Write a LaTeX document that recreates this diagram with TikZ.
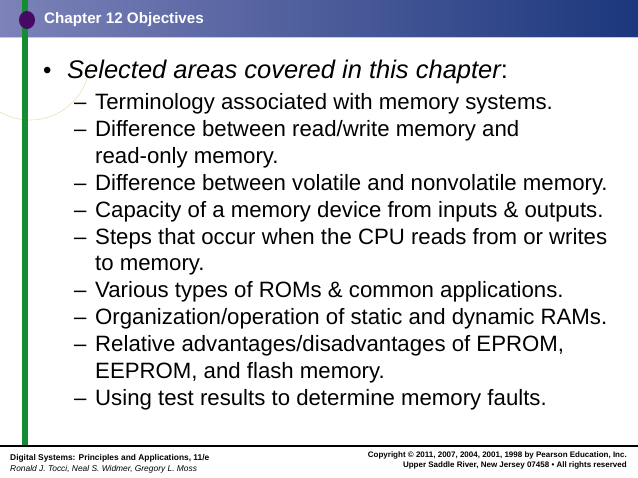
\documentclass[tikz,border=0pt]{standalone}
\usepackage{fontspec}
\setmainfont{Liberation Sans}
\definecolor{hl}{RGB}{125,130,185}
\definecolor{hr}{RGB}{28,55,125}
\definecolor{hline}{RGB}{200,200,225}
\definecolor{arcc}{RGB}{235,225,180}
\definecolor{grn}{RGB}{20,140,50}
\definecolor{purp}{RGB}{70,10,100}
\begin{document}
\begin{tikzpicture}[x=1pt,y=-1pt,
  txt/.style={anchor=base west,inner sep=0pt,font=\fontsize{22.2}{24}\selectfont},
  foot/.style={inner sep=0pt}]
\useasboundingbox (0,0) rectangle (638,478);
\fill[white] (0,0) rectangle (638,478);
\shade[left color=hl, right color=hr] (0,0) rectangle (638,38);
\draw[hline,line width=1pt] (0,38) -- (638,38);
\draw[arcc,line width=0.6pt] (90,60) arc (0:120:60);
\fill[grn] (22,0) rectangle (28,446);
\fill[purp] (27,20) ellipse (8 and 9);
\node[anchor=west,inner sep=0pt,text=white,font=\fontsize{15.2}{18}\bfseries] (title) at (44,20) {Chapter 12 Objectives};
\node[txt,font=\fontsize{24}{26}\selectfont] (b) at (43,79) {•};
\node[txt,font=\fontsize{25.5}{28}\itshape] (b1) at (67,79) {Selected areas covered in this chapter\upshape:};
\def\item#1#2{\node[txt] at (74,#1) {–};\node[txt] at (95,#1) {#2};}
\def\cont#1#2{\node[txt] at (95,#1) {#2};}
\item{110}{Terminology associated with memory systems.}
\item{137}{Difference between read/write memory and}
\cont{164}{read-only memory.}
\item{191}{Difference between volatile and nonvolatile memory.}
\item{218}{Capacity of a memory device from inputs \& outputs.}
\item{245}{Steps that occur when the CPU reads from or writes}
\cont{271}{to memory.}
\item{298}{Various types of ROMs \& common applications.}
\item{325}{Organization/operation of static and dynamic RAMs.}
\item{352}{Relative advantages/disadvantages of EPROM,}
\cont{379}{EEPROM, and flash memory.}
\item{406}{Using test results to determine memory faults.}
\draw[line width=1.5pt] (0,446) -- (638,446);
\node[foot,anchor=west,font=\fontsize{8.4}{10}\bfseries] (f1) at (10,458) {Digital Systems: Principles and Applications, 11/e};
\node[foot,anchor=west,font=\fontsize{8.4}{10}\itshape] (f2) at (10,469) {Ronald J. Tocci, Neal S. Widmer, Gregory L. Moss};
\node[foot,anchor=east,font=\fontsize{8}{10}\bfseries] (f3) at (627,455) {Copyright © 2011, 2007, 2004, 2001, 1998  by Pearson Education, Inc.};
\node[foot,anchor=east,font=\fontsize{8}{10}\bfseries] (f4) at (627,465) {Upper Saddle River, New Jersey 07458 • All rights reserved};
\end{tikzpicture}
\end{document}
